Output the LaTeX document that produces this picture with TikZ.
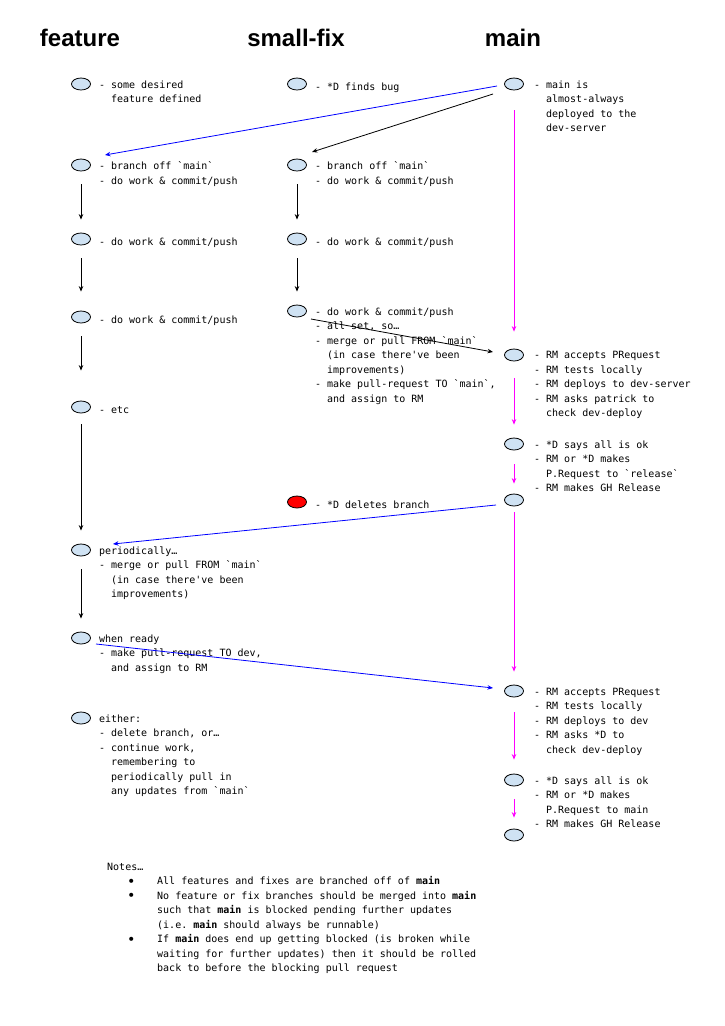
\documentclass[tikz,border=0pt]{standalone}
\usepackage{fontspec}
\setmainfont{Liberation Sans}
\setmonofont{DejaVu Sans Mono}
\usetikzlibrary{arrows.meta,shapes.geometric}

\definecolor{commitfill}{HTML}{CFE2F3}
\definecolor{trunkpink}{RGB}{255,0,255}
\definecolor{mergeblue}{RGB}{0,0,255}
\definecolor{gonered}{RGB}{255,0,0}
\newcommand{\ind}{\hphantom{xx}}
\newcommand{\notebullet}{\makebox[50pt][l]{\hspace*{20pt}\raisebox{-1.5pt}{\fontsize{14}{14.5}\selectfont\textbullet}}}
\newcommand{\notecont}{\hspace*{50pt}}

\begin{document}
\begin{tikzpicture}[x=1pt, y=-1pt,
    >={Stealth[length=5.5pt,width=4.5pt]},
    commit/.style={draw, ellipse, fill=commitfill, line width=0.8pt,
        minimum width=19pt, minimum height=12pt, inner sep=0pt},
    txt/.style={anchor=north west, inner sep=0pt, align=left, yshift=3.5pt,
        font=\ttfamily\fontsize{10}{14.5}\selectfont, execute at begin node=\strut},
    desc/.style={txt, xshift=8pt},
    branch/.style={anchor=base, font=\bfseries\fontsize{24}{28}\selectfont},
    link/.style={->, line width=0.8pt},
    flow/.style={link, shorten <=13pt, shorten >=13pt},
    trunk/.style={flow, trunkpink},
    merge/.style={link, mergeblue}]
    \useasboundingbox (0,0) rectangle (724,1026);

    % feature branch
    \node[branch] (h-feature) at (80,46) {feature};
    \node[commit] (f1) at (81,84) {};
    \node[commit] (f2) at (81,165) {};
    \node[commit] (f3) at (81,239) {};
    \node[commit] (f4) at (81,317) {};
    \node[commit] (f5) at (81,407) {};
    \node[commit] (f6) at (81,550) {};
    \node[commit] (f7) at (81,638) {};
    \node[commit] (f8) at (81,718) {};

    \node[desc] (d-f1) at (f1.east) {- some desired\\\ind feature defined};
    \node[desc] (d-f2) at (f2.east) {- branch off `main`\\- do work \& commit/push};
    \node[desc] (d-f3) at (f3.east) {- do work \& commit/push};
    \node[desc] (d-f4) at (f4.east) {- do work \& commit/push};
    \node[desc] (d-f5) at (f5.east) {- etc};
    \node[desc] (d-f6) at (f6.east) {periodically…\\- merge or pull FROM `main`\\\ind (in case there've been\\\ind improvements)};
    \node[desc] (d-f7) at (f7.east) {when ready\\- make pull-request TO dev,\\\ind and assign to RM};
    \node[desc] (d-f8) at (f8.east) {either:\\- delete branch, or…\\- continue work,\\\ind remembering to\\\ind periodically pull in\\\ind any updates from `main`};

    % small-fix branch
    \node[branch] (h-fix) at (296,46) {small-fix};
    \node[commit] (s1) at (297,84) {};
    \node[commit] (s2) at (297,165) {};
    \node[commit] (s3) at (297,239) {};
    \node[commit] (s4) at (297,311) {};
    \node[commit, fill=gonered] (s5) at (297,502) {};

    \node[desc] (d-s1) at (s1.east) {- *D finds bug};
    \node[desc] (d-s2) at (s2.east) {- branch off `main`\\- do work \& commit/push};
    \node[desc] (d-s3) at (s3.east) {- do work \& commit/push};
    \node[desc] (d-s4) at (s4.east) {- do work \& commit/push\\- all set, so…\\- merge or pull FROM `main`\\\ind (in case there've been\\\ind improvements)\\- make pull-request TO `main`,\\\ind and assign to RM};
    \node[desc] (d-s5) at (s5.east) {- *D deletes branch};

    % main branch
    \node[branch] (h-main) at (513,46) {main};
    \node[commit] (m1) at (514,84) {};
    \node[commit] (m2) at (514,355) {};
    \node[commit] (m3) at (514,444) {};
    \node[commit] (m4) at (514,500) {};
    \node[commit] (m5) at (514,691) {};
    \node[commit] (m6) at (514,780) {};
    \node[commit] (m7) at (514,835) {};

    \node[desc, xshift=2pt] (d-m1) at (m1.east) {- main is\\\ind almost-always\\\ind deployed to the\\\ind dev-server};
    \node[desc, xshift=2pt] (d-m2) at (m2.east) {- RM accepts PRequest\\- RM tests locally\\- RM deploys to dev-server\\- RM asks patrick to\\\ind check dev-deploy};
    \node[desc, xshift=2pt] (d-m3) at (m3.east) {- *D says all is ok\\- RM or *D makes\\\ind P.Request to `release`\\- RM makes GH Release};
    \node[desc, xshift=2pt] (d-m5) at (m5.east) {- RM accepts PRequest\\- RM tests locally\\- RM deploys to dev\\- RM asks *D to\\\ind check dev-deploy};
    \node[desc, xshift=2pt] (d-m6) at (m6.east) {- *D says all is ok\\- RM or *D makes\\\ind P.Request to main\\- RM makes GH Release};

    % notes
    \node[txt] (notes) at (107,866) {Notes…\\
        \notebullet All features and fixes are branched off of \textbf{main}\\
        \notebullet No feature or fix branches should be merged into \textbf{main}\\
        \notecont such that \textbf{main} is blocked pending further updates\\
        \notecont (i.e. \textbf{main} should always be runnable)\\
        \notebullet If \textbf{main} does end up getting blocked (is broken while\\
        \notecont waiting for further updates) then it should be rolled\\
        \notecont back to before the blocking pull request};

    % commits along each branch
    \draw[flow] (f2) -- (f3);
    \draw[flow, shorten >=19pt] (f3) -- (f4);
    \draw[flow, shorten >=30pt] (f4) -- (f5);
    \draw[flow, shorten <=11pt] (f5) -- (f6);
    \draw[flow] (f6) -- (f7);
    \draw[flow] (s2) -- (s3);
    \draw[flow] (s3) -- (s4);
    \draw[trunk, shorten <=20pt, shorten >=17pt] (m1) -- (m2);
    \draw[trunk, shorten <=17pt] (m2) -- (m3);
    \draw[trunk, shorten <=14pt, shorten >=10pt] (m3) -- (m4);
    \draw[trunk, shorten <=6pt] (m4) -- (m5);
    \draw[trunk, shorten <=15pt, shorten >=14pt] (m5) -- (m6);
    \draw[trunk, shorten >=11pt] (m6) -- (m7);

    % branching off and merging
    \draw[merge] ([shift={(-17,2)}]m1.center) -- ([shift={(24,-10)}]f2.center);
    \draw[link] ([shift={(-21,10)}]m1.center) -- ([shift={(15,-13)}]s2.center);
    \draw[link] ([shift={(14,8)}]s4.center) -- ([shift={(-21,-3)}]m2.center);
    \draw[merge] ([shift={(-18,5)}]m4.center) -- ([shift={(32,-6)}]f6.center);
    \draw[merge] ([shift={(15,6)}]f7.center) -- ([shift={(-21,-3)}]m5.center);
\end{tikzpicture}
\end{document}
